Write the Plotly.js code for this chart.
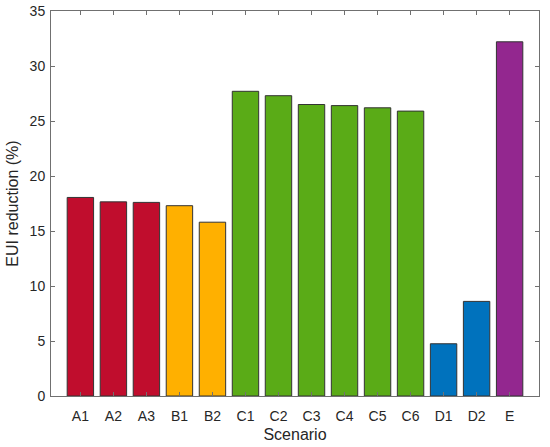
<!DOCTYPE html>
<html>
<head>
<meta charset="utf-8">
<script src="https://cdn.plot.ly/plotly-3.0.1.min.js"></script>
<style>html,body{margin:0;padding:0;background:#fff;}#chart{width:550px;height:447px;}</style>
</head>
<body>
<div id="chart"></div>
<script>
const scenarios = ["A1","A2","A3","B1","B2","C1","C2","C3","C4","C5","C6","D1","D2","E"];
const euiReduction = [18.05, 17.65, 17.6, 17.3, 15.8, 27.7, 27.3, 26.5, 26.4, 26.2, 25.9, 4.75, 8.6, 32.2];
const groupColors = {A: "#C00D2D", B: "#FFB000", C: "#5AAB17", D: "#0072BD", E: "#93278F"};
const yTicks = [0, 5, 10, 15, 20, 25, 30, 35];

const colors = scenarios.map(s => groupColors[s[0]]);

const trace = {
  type: "bar",
  x: scenarios,
  y: euiReduction,
  width: 0.8,
  marker: {color: colors, line: {color: "#333333", width: 1}},
  hoverinfo: "x+y"
};

const fontFam = "Liberation Sans, Arial, sans-serif";

const axisCommon = {
  showgrid: false,
  zeroline: false,
  showline: true,
  linecolor: "#707070",
  linewidth: 1,
  mirror: "ticks",
  ticks: "inside",
  ticklen: 4,
  tickcolor: "#707070",
  tickfont: {family: fontFam, size: 14, color: "#262626"}
};

const layout = {
  width: 550,
  height: 447,
  margin: {l: 51, r: 11, t: 11, b: 51},
  paper_bgcolor: "#ffffff",
  plot_bgcolor: "#ffffff",
  showlegend: false,
  xaxis: Object.assign({}, axisCommon, {
    type: "category",
    range: [-0.89, 13.89],
    ticklabelstandoff: 7,
    title: {text: "Scenario", font: {family: fontFam, size: 16, color: "#262626"}, standoff: 6}
  }),
  yaxis: Object.assign({}, axisCommon, {
    range: [0, 35],
    tickvals: yTicks,
    ticktext: yTicks.map(String),
    ticklabelstandoff: 2,
    title: {text: "EUI reduction (%)", font: {family: fontFam, size: 16, color: "#262626"}, standoff: 7}
  })
};

Plotly.newPlot("chart", [trace], layout, {displayModeBar: false, staticPlot: true});
</script>
</body>
</html>
